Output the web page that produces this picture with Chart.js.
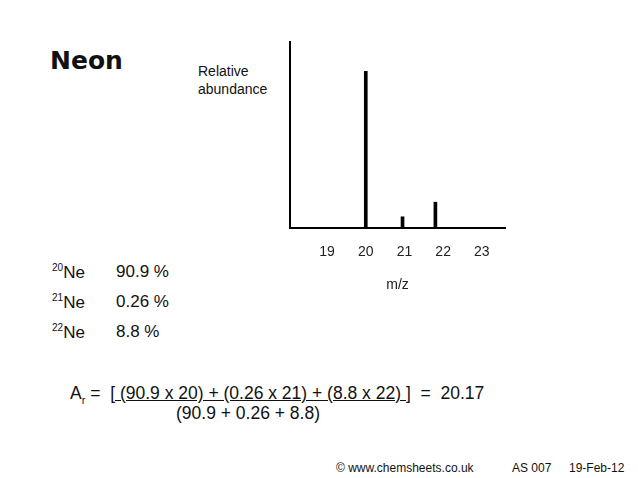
<!DOCTYPE html><html><head><meta charset="utf-8">
<script src="https://cdn.jsdelivr.net/npm/chart.js@4"></script>
<style>
body{margin:0;width:638px;height:478px;background:#fff;position:relative;font-family:Arial,"Liberation Sans",sans-serif;overflow:hidden}
.t{position:absolute;white-space:nowrap;color:#111}
#c{position:absolute;left:270px;top:32px}
sup{font-size:10px}
</style></head><body>
<div class="t" style="left:50px;top:46px;font:bold 25px 'DejaVu Sans',sans-serif">Neon</div>
<div class="t" style="left:198px;top:62px;font-size:14px;line-height:18px">Relative<br>abundance</div>
<div class="t" style="left:52px;top:262px;font-size:17px"><sup>20</sup>Ne<span style="position:absolute;left:64px">90.9 %</span></div>
<div class="t" style="left:52px;top:292px;font-size:17px"><sup>21</sup>Ne<span style="position:absolute;left:64px">0.26 %</span></div>
<div class="t" style="left:52px;top:322px;font-size:17px"><sup>22</sup>Ne<span style="position:absolute;left:64px">8.8 %</span></div>
<div class="t" style="left:70px;top:383px;font-size:17.5px">A<sub style="font-size:11px">r</sub> = &nbsp;<span style="text-decoration:underline">[ (90.9 x 20) + (0.26 x 21) + (8.8 x 22) ]</span> &nbsp;= &nbsp;20.17</div>
<div class="t" style="left:176px;top:403px;font-size:17.5px">(90.9 + 0.26 + 8.8)</div>
<div class="t" style="left:336px;top:461px;font-size:12px">© www.chemsheets.co.uk</div>
<div class="t" style="left:512px;top:461px;font-size:12px">AS 007</div>
<div class="t" style="left:569px;top:461px;font-size:12px">19-Feb-12</div>
<canvas id="c" width="260" height="266"></canvas>
<script>
const massPositions=[20,20.95,21.8];
const abundance=[90.9,6.5,15];
const tickLabels=[19,20,21,22,23];
new Chart(document.getElementById('c'),{type:'bar',
data:{datasets:[{data:massPositions.map((m,i)=>({x:m,y:abundance[i]})),backgroundColor:'#000',barThickness:3}]},
options:{responsive:false,animation:false,layout:{padding:{top:10,right:25}},
plugins:{legend:{display:false},tooltip:{enabled:false}},
scales:{x:{type:'linear',offset:false,min:18.04,max:23.6,grid:{display:false,drawTicks:false},border:{color:'#000',width:2},
afterBuildTicks:s=>{s.ticks=tickLabels.map(v=>({value:v}));},
ticks:{color:'#222',font:{size:14,family:'Arial'},padding:16,callback:v=>String(v)},
title:{display:true,text:'m/z',color:'#222',font:{size:14,family:'Arial'},padding:{top:6}},
afterFit:s=>{s.height=70;}},
y:{min:0,max:108,grid:{display:false,drawTicks:false},border:{color:'#000',width:2},ticks:{display:false},afterFit:s=>{s.width=20;}}}}});
</script></body></html>
